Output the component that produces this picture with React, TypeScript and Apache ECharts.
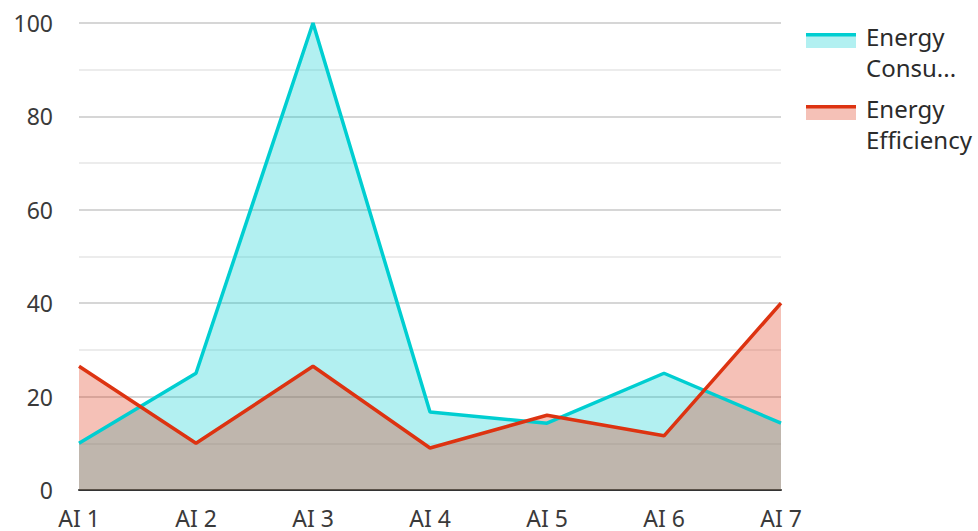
import React, { useEffect, useRef } from "react";
import * as echarts from "echarts";

const categories = ["AI 1", "AI 2", "AI 3", "AI 4", "AI 5", "AI 6", "AI 7"];
const consumption = [10, 25, 100, 16.7, 14.3, 25, 14.3];
const efficiency = [26.5, 10, 26.5, 9, 16, 11.6, 40];
const seriesNames = ["Energy Consumption", "Energy Efficiency"];
const legendLines = [["Energy", "Consu..."], ["Energy", "Efficiency"]];

const CYAN = "#00CED1";
const RED = "#DD3311";
const FONT = "Noto Sans";

export default function App() {
  const ref = useRef<HTMLDivElement>(null);
  useEffect(() => {
    if (!ref.current) return;
    const chart = echarts.init(ref.current, undefined, { renderer: "svg" });
    const colors = [CYAN, RED];
    const legendGraphics: any[] = [];
    [0, 1].forEach((i) => {
      const top = 34 + i * 72;
      legendGraphics.push({
        type: "rect",
        shape: { x: 806, y: top + 2, width: 50, height: 12 },
        style: { fill: colors[i], opacity: 0.3 },
      });
      legendGraphics.push({
        type: "rect",
        shape: { x: 806, y: top - 1, width: 50, height: 3.5 },
        style: { fill: colors[i] },
      });
      legendLines[i].forEach((t, j) => {
        legendGraphics.push({
          type: "text",
          x: 866,
          y: top + 2 + j * 31,
          style: {
            text: t,
            font: `24px "${FONT}"`,
            fill: "#2b2b2b",
            textVerticalAlign: "middle",
          },
        });
      });
    });
    chart.setOption({
      animation: false,
      grid: { left: 79, right: 197, top: 23, bottom: 41, containLabel: false },
      xAxis: {
        type: "category",
        data: categories,
        boundaryGap: false,
        axisLine: { lineStyle: { color: "#333", width: 2 } },
        axisTick: { show: false },
        axisLabel: { fontFamily: FONT, fontSize: 23, color: "#3a3a3a", margin: 16 },
      },
      yAxis: {
        type: "value",
        min: 0,
        max: 100,
        interval: 20,
        axisLine: { show: false },
        axisTick: { show: false },
        axisLabel: { fontFamily: FONT, fontSize: 23, color: "#3a3a3a", margin: 26 },
        splitLine: { lineStyle: { color: "#c8c8c8", width: 1.5 } },
        minorTick: { show: false, splitNumber: 2 },
        minorSplitLine: { show: true, lineStyle: { color: "#e6e6e6", width: 1.5 } },
      },
      series: [
        {
          name: seriesNames[0],
          type: "line",
          data: consumption,
          showSymbol: false,
          lineStyle: { color: CYAN, width: 3.5 },
          itemStyle: { color: CYAN },
          areaStyle: { color: CYAN, opacity: 0.3 },
        },
        {
          name: seriesNames[1],
          type: "line",
          data: efficiency,
          showSymbol: false,
          lineStyle: { color: RED, width: 3.5 },
          itemStyle: { color: RED },
          areaStyle: { color: RED, opacity: 0.3 },
        },
      ],
      graphic: legendGraphics,
    });
    return () => chart.dispose();
  }, []);
  return <div ref={ref} style={{ width: 978, height: 531, position: "absolute", left: 0, top: 0 }} />;
}
